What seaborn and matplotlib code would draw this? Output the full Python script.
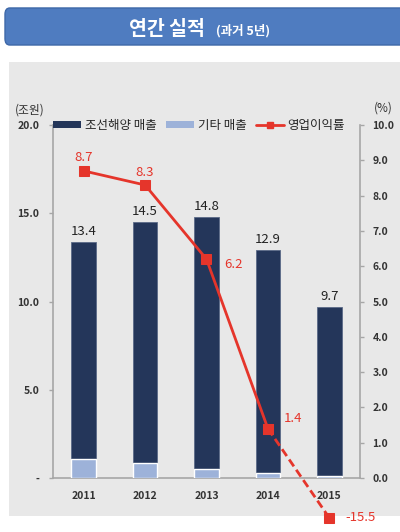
import numpy as np
import matplotlib
matplotlib.use("Agg")
import matplotlib.pyplot as plt
import seaborn as sns
from matplotlib.patches import FancyBboxPatch, Rectangle, Patch
from matplotlib.lines import Line2D

# Data
years = ['2011', '2012', '2013', '2014', '2015']
total_sales = [13.4, 14.5, 14.8, 12.9, 9.7]      # 조원, labelled totals
other_sales = [1.05, 0.87, 0.5, 0.28, 0.1]        # 기타 매출 (light part)
op_margin = [8.7, 8.3, 6.2, 1.4, -15.5]           # 영업이익률 (%)

left_ticks = [0, 5, 10, 15, 20]
right_ticks = list(range(0, 11))

# Colours
NAVY = '#24365A'
LIGHT = '#9DB2D9'
RED = '#E5352B'
GRID_GRAY = '#A6A6A6'
PANEL = '#E8E8E8'

# Off-scale points get drawn just below the axis (as in the original)
OFFSCALE_Y = -1.13

sns.set_style("white")
plt.rcParams['font.family'] = ['Noto Sans CJK KR', 'DejaVu Sans']

fig = plt.figure(figsize=(4.0, 5.32), dpi=100)
fig.patch.set_facecolor('white')

# gray panel behind the chart
fig.patches.append(Rectangle((0.0225, 0.030), 0.99, 0.853, transform=fig.transFigure,
                             facecolor=PANEL, edgecolor='none', zorder=-2))
# title banner
fig.patches.append(FancyBboxPatch((0.0125, 0.9154), 1.0, 0.0696, transform=fig.transFigure,
                                  boxstyle='round,pad=0,rounding_size=0.012',
                                  facecolor='#4F7CC0', edgecolor='#3E68A8', linewidth=1,
                                  zorder=-1))
fig.text(0.322, 0.944, '연간 실적', color='white', fontsize=14, fontweight='bold',
         ha='left', va='center')
fig.text(0.54, 0.942, '(과거 5년)', color='white', fontsize=9, fontweight='bold',
         ha='left', va='center')

ax = fig.add_axes([0.1325, 0.1015, 0.7675, 0.6635])
ax.set_facecolor('none')

# stacked bars: total in navy, other-sales share overlaid from zero
sns.barplot(x=years, y=total_sales, color=NAVY, saturation=1, width=0.4, ax=ax, zorder=2,
            edgecolor='#5A6A88', linewidth=0.6)
sns.barplot(x=years, y=other_sales, color=LIGHT, saturation=1, width=0.4, ax=ax, zorder=3)

for i, v in enumerate(total_sales):
    ax.annotate(f'{v:.1f}', (i, v), xytext=(0, 4), textcoords='offset pixels',
                ha='center', va='bottom', fontsize=9.5, color='#222222')

ax.set_xlim(-0.5, 4.5)
ax.set_ylim(0, 20)
ax.set_yticks(left_ticks)
ax.set_yticklabels(['-' if t == 0 else f'{t:.1f}' for t in left_ticks])
ax.set_xlabel('')
ax.set_ylabel('')
ax.set_xticks(range(len(years)))
ax.set_xticklabels(years, fontweight='bold')
ax.set_xticks(np.arange(-0.5, 5, 1.0), minor=True)
ax.tick_params(axis='x', which='major', length=0, pad=9, labelsize=7.5, colors='#333333')
ax.tick_params(axis='x', which='minor', length=4, color=GRID_GRAY, width=1)
ax.tick_params(axis='y', length=3, color=GRID_GRAY, width=1, pad=7, labelsize=7.5,
               colors='#333333')
for lab in ax.get_yticklabels():
    lab.set_fontweight('bold')
for side in ['top', 'right']:
    ax.spines[side].set_visible(False)
for side in ['left', 'bottom']:
    ax.spines[side].set_color(GRID_GRAY)
    ax.spines[side].set_linewidth(1.2)

# operating margin on the right axis
ax2 = ax.twinx()
ax2.set_ylim(0, 10)
shown = [v if v >= 0 else OFFSCALE_Y for v in op_margin]
idx = list(range(len(years)))
sns.lineplot(x=idx[:4], y=shown[:4], color=RED, linewidth=2, marker='s', markersize=6.5,
             markeredgecolor=RED, ax=ax2, zorder=5)
sns.lineplot(x=idx[3:], y=shown[3:], color=RED, linewidth=2, linestyle=(0, (3, 1.5)),
             marker='s', markersize=6.5, markeredgecolor=RED, ax=ax2, zorder=5,
             clip_on=False)

label_offsets = [(0, 13), (0, 13), (27, -5), (25, 10), (31, 0)]
for i, (v, off) in enumerate(zip(op_margin, label_offsets)):
    ax2.annotate(f'{v:.1f}', (i, shown[i]), xytext=off, textcoords='offset pixels',
                 ha='center', va='center', fontsize=9.5, color=RED, annotation_clip=False)

ax2.set_yticks(right_ticks)
ax2.set_yticklabels([f'{t:.1f}' for t in right_ticks])
ax2.set_ylabel('')
ax2.tick_params(axis='y', length=3, color=GRID_GRAY, width=1, pad=6, labelsize=7.5,
                colors='#333333')
for lab in ax2.get_yticklabels():
    lab.set_fontweight('bold')
for side in ['top', 'left', 'bottom']:
    ax2.spines[side].set_visible(False)
ax2.spines['right'].set_color(GRID_GRAY)
ax2.spines['right'].set_linewidth(1.2)

# unit labels
fig.text(0.075, 0.793, '(조원)', fontsize=8.5, ha='center', va='center', color='#333333')
fig.text(0.958, 0.797, '(%)', fontsize=8.5, ha='center', va='center', color='#333333')

# legend
handles = [Patch(facecolor=NAVY, edgecolor='none'),
           Patch(facecolor=LIGHT, edgecolor='none'),
           Line2D([0], [0], color=RED, linewidth=2, marker='s', markersize=5)]
labels = ['조선해양 매출', '기타 매출', '영업이익률']
leg = ax2.legend(handles, labels, loc='center', bbox_to_anchor=(0.476, 1.0), ncol=3,
                 frameon=False, fontsize=9, handlelength=2.2, handleheight=0.5,
                 handletextpad=0.3, columnspacing=0.8)

fig.savefig('out.png', dpi=100)
